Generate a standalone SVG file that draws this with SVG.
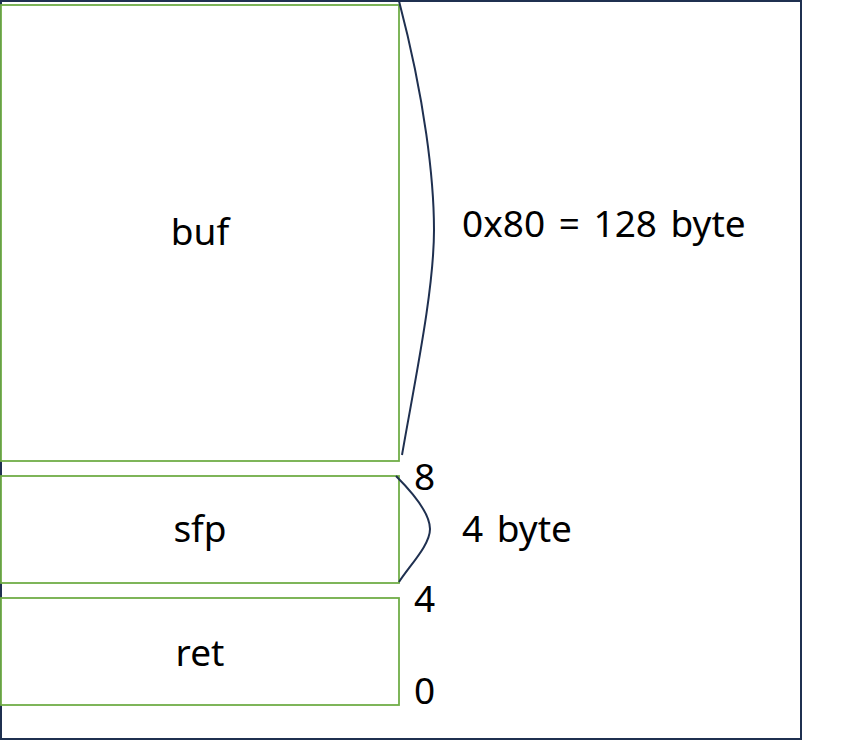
<svg xmlns="http://www.w3.org/2000/svg" width="864" height="740" viewBox="0 0 864 740">
<style>
.frame{fill:#ffffff;stroke:#1f3050;stroke-width:2}
.box{fill:#ffffff;stroke:#70ad47;stroke-width:1.8}
.brace{fill:none;stroke:#1f3050;stroke-width:2}
text{font-family:"Noto Sans","Open Sans","DejaVu Sans",sans-serif;font-size:37px;fill:#000000;word-spacing:4px}
.c{text-anchor:middle}
</style>
<rect x="0" y="0" width="864" height="740" fill="#ffffff"/>
<rect class="frame" x="1" y="1" width="800" height="738"/>
<g id="buf"><rect class="box" x="1" y="5" width="398" height="456"/><text class="c" x="200" y="245">buf</text></g>
<g id="sfp"><rect class="box" x="1" y="476" width="398" height="107"/><text class="c" x="200" y="542">sfp</text></g>
<g id="ret"><rect class="box" x="1" y="598" width="398" height="107"/><text class="c" x="200" y="666">ret</text></g>
<g id="connectors">
<path class="brace" d="M399,1 C425,100 434,180 434,230 C434,290 415,380 402,455"/>
<path class="brace" d="M396,476 C415,495 430,515 430,529 C430,545 410,565 399,582"/>
</g>
<g id="labels">
<text x="462" y="237">0x80 = 128 byte</text>
<text x="462" y="542">4 byte</text>
<text x="414" y="490">8</text>
<text x="414" y="612">4</text>
<text x="414" y="704">0</text>
</g>
</svg>
